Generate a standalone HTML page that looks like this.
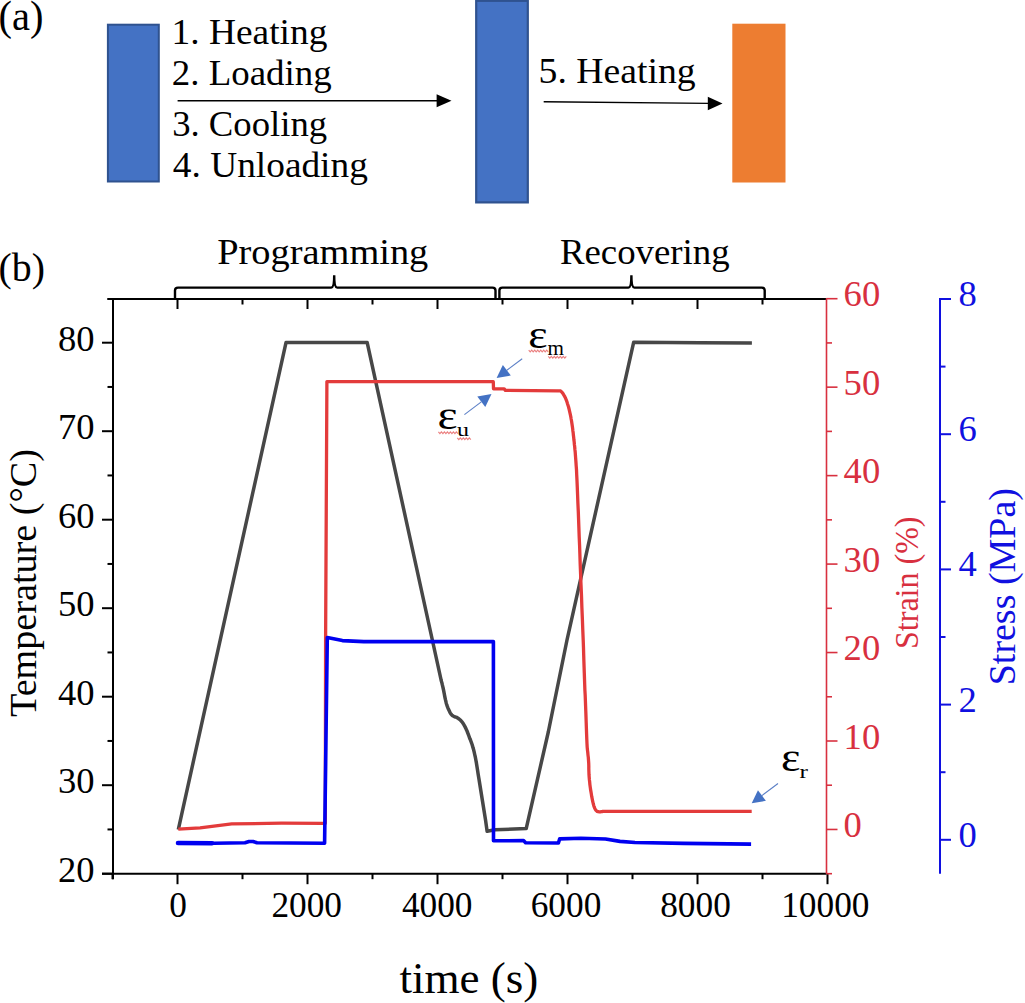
<!DOCTYPE html>
<html><head><meta charset="utf-8"><style>
html,body{margin:0;padding:0;background:#fff;}
svg{display:block;}
text{font-family:"Liberation Serif", serif;}
</style></head><body>
<svg width="1025" height="1003" viewBox="0 0 1025 1003">
<text transform="translate(-1.42,29.80) scale(0.9805,1)" font-size="41.3" fill="#000">(a)</text>
<rect x="107.9" y="24.7" width="50.9" height="156.8" fill="#4472C4" stroke="#2F528F" stroke-width="2"/>
<rect x="476.2" y="0.8" width="51.6" height="201.6" fill="#4472C4" stroke="#2F528F" stroke-width="2.2"/>
<rect x="732.3" y="23.7" width="53.2" height="158.8" fill="#ED7D31"/>
<text transform="translate(171.52,44.10) scale(1.0371,1)" font-size="36.1" fill="#000">1. Heating</text>
<text transform="translate(171.75,85.05) scale(1.0201,1)" font-size="36.2" fill="#000">2. Loading</text>
<text transform="translate(172.16,135.80) scale(1.0144,1)" font-size="36.2" fill="#000">3. Cooling</text>
<text transform="translate(172.87,177.00) scale(1.0318,1)" font-size="36.2" fill="#000">4. Unloading</text>
<text transform="translate(538.54,83.00) scale(1.0336,1)" font-size="36.5" fill="#000">5. Heating</text>
<line x1="177.6" y1="100.7" x2="438" y2="100.7" stroke="#000" stroke-width="1.4"/>
<polygon points="436.6,94.2 451.5,100.7 436.6,107.2" fill="#000"/>
<line x1="543.7" y1="101.7" x2="709" y2="103.4" stroke="#000" stroke-width="1.4"/>
<polygon points="707.8,96.8 722.5,103.5 707.8,110.2" fill="#000"/>
<text transform="translate(-1.39,280.90) scale(0.9734,1)" font-size="40.9" fill="#000">(b)</text>
<text transform="translate(217.24,263.50) scale(1.0967,1)" font-size="35.0" fill="#000">Programming</text>
<text transform="translate(559.88,263.70) scale(1.0379,1)" font-size="35.5" fill="#000">Recovering</text>
<path d="M175,299 L175,290.6 Q175,287.6 178,287.6 L331.2,287.6 Q334.2,287.6 334.2,275.2 Q334.2,287.6 337.2,287.6 L492.5,287.6 Q495.5,287.6 495.5,290.6 L495.5,299" fill="none" stroke="#000" stroke-width="2.4"/>
<path d="M499.4,299 L499.4,290.6 Q499.4,287.6 502.4,287.6 L628.4,287.6 Q631.4,287.6 631.4,275.2 Q631.4,287.6 634.4,287.6 L761.7,287.6 Q764.7,287.6 764.7,290.6 L764.7,299" fill="none" stroke="#000" stroke-width="2.4"/>
<text transform="translate(178.00,916.8) scale(0.965,1)" font-size="36.6" text-anchor="middle">0</text>
<text transform="translate(306.70,916.8) scale(0.965,1)" font-size="36.6" text-anchor="middle">2000</text>
<text transform="translate(437.20,916.8) scale(0.965,1)" font-size="36.6" text-anchor="middle">4000</text>
<text transform="translate(566.00,916.8) scale(0.965,1)" font-size="36.6" text-anchor="middle">6000</text>
<text transform="translate(695.50,916.8) scale(0.965,1)" font-size="36.6" text-anchor="middle">8000</text>
<text transform="translate(825.30,916.8) scale(0.965,1)" font-size="36.6" text-anchor="middle">10000</text>
<text x="94.5" y="881.50" font-size="36.6" text-anchor="end">20</text>
<text x="94.5" y="793.00" font-size="36.6" text-anchor="end">30</text>
<text x="94.5" y="704.50" font-size="36.6" text-anchor="end">40</text>
<text x="94.5" y="616.00" font-size="36.6" text-anchor="end">50</text>
<text x="94.5" y="527.50" font-size="36.6" text-anchor="end">60</text>
<text x="94.5" y="439.00" font-size="36.6" text-anchor="end">70</text>
<text x="94.5" y="350.50" font-size="36.6" text-anchor="end">80</text>
<text x="843.6" y="836.96" font-size="36.6" fill="#D8303F">0</text>
<text x="843.6" y="748.50" font-size="36.6" fill="#D8303F">10</text>
<text x="843.6" y="660.04" font-size="36.6" fill="#D8303F">20</text>
<text x="843.6" y="571.58" font-size="36.6" fill="#D8303F">30</text>
<text x="843.6" y="483.12" font-size="36.6" fill="#D8303F">40</text>
<text x="843.6" y="394.66" font-size="36.6" fill="#D8303F">50</text>
<text x="843.6" y="306.20" font-size="36.6" fill="#D8303F">60</text>
<text x="958.4" y="846.80" font-size="36.6" fill="#1010E0">0</text>
<text x="958.4" y="711.60" font-size="36.6" fill="#1010E0">2</text>
<text x="958.4" y="576.40" font-size="36.6" fill="#1010E0">4</text>
<text x="958.4" y="441.20" font-size="36.6" fill="#1010E0">6</text>
<text x="958.4" y="306.00" font-size="36.6" fill="#1010E0">8</text>
<line x1="113" y1="298" x2="113" y2="879.2" stroke="#000" stroke-width="2"/>
<line x1="107.5" y1="299" x2="113" y2="299" stroke="#000" stroke-width="2"/>
<line x1="102" y1="873.7" x2="826.5" y2="873.7" stroke="#000" stroke-width="2"/>
<line x1="107.5" y1="299" x2="826.5" y2="299" stroke="#000" stroke-width="2"/>
<line x1="177.5" y1="873.7" x2="177.5" y2="884.2" stroke="#000" stroke-width="2"/>
<line x1="177.5" y1="299" x2="177.5" y2="309" stroke="#000" stroke-width="2"/>
<line x1="307.5" y1="873.7" x2="307.5" y2="884.2" stroke="#000" stroke-width="2"/>
<line x1="307.5" y1="299" x2="307.5" y2="309" stroke="#000" stroke-width="2"/>
<line x1="437.5" y1="873.7" x2="437.5" y2="884.2" stroke="#000" stroke-width="2"/>
<line x1="437.5" y1="299" x2="437.5" y2="309" stroke="#000" stroke-width="2"/>
<line x1="567.5" y1="873.7" x2="567.5" y2="884.2" stroke="#000" stroke-width="2"/>
<line x1="567.5" y1="299" x2="567.5" y2="309" stroke="#000" stroke-width="2"/>
<line x1="697.5" y1="873.7" x2="697.5" y2="884.2" stroke="#000" stroke-width="2"/>
<line x1="697.5" y1="299" x2="697.5" y2="309" stroke="#000" stroke-width="2"/>
<line x1="827.5" y1="873.7" x2="827.5" y2="884.2" stroke="#000" stroke-width="2"/>
<line x1="112.5" y1="873.7" x2="112.5" y2="879.2" stroke="#000" stroke-width="2"/>
<line x1="242.5" y1="873.7" x2="242.5" y2="879.2" stroke="#000" stroke-width="2"/>
<line x1="242.5" y1="299" x2="242.5" y2="304.5" stroke="#000" stroke-width="2"/>
<line x1="372.5" y1="873.7" x2="372.5" y2="879.2" stroke="#000" stroke-width="2"/>
<line x1="372.5" y1="299" x2="372.5" y2="304.5" stroke="#000" stroke-width="2"/>
<line x1="502.5" y1="873.7" x2="502.5" y2="879.2" stroke="#000" stroke-width="2"/>
<line x1="502.5" y1="299" x2="502.5" y2="304.5" stroke="#000" stroke-width="2"/>
<line x1="632.5" y1="873.7" x2="632.5" y2="879.2" stroke="#000" stroke-width="2"/>
<line x1="632.5" y1="299" x2="632.5" y2="304.5" stroke="#000" stroke-width="2"/>
<line x1="762.5" y1="873.7" x2="762.5" y2="879.2" stroke="#000" stroke-width="2"/>
<line x1="762.5" y1="299" x2="762.5" y2="304.5" stroke="#000" stroke-width="2"/>
<line x1="102" y1="873.7" x2="113" y2="873.7" stroke="#000" stroke-width="2"/>
<line x1="102" y1="785.2" x2="113" y2="785.2" stroke="#000" stroke-width="2"/>
<line x1="102" y1="696.7" x2="113" y2="696.7" stroke="#000" stroke-width="2"/>
<line x1="102" y1="608.2" x2="113" y2="608.2" stroke="#000" stroke-width="2"/>
<line x1="102" y1="519.7" x2="113" y2="519.7" stroke="#000" stroke-width="2"/>
<line x1="102" y1="431.20000000000005" x2="113" y2="431.20000000000005" stroke="#000" stroke-width="2"/>
<line x1="102" y1="342.70000000000005" x2="113" y2="342.70000000000005" stroke="#000" stroke-width="2"/>
<line x1="107.5" y1="829.45" x2="113" y2="829.45" stroke="#000" stroke-width="2"/>
<line x1="107.5" y1="740.95" x2="113" y2="740.95" stroke="#000" stroke-width="2"/>
<line x1="107.5" y1="652.45" x2="113" y2="652.45" stroke="#000" stroke-width="2"/>
<line x1="107.5" y1="563.95" x2="113" y2="563.95" stroke="#000" stroke-width="2"/>
<line x1="107.5" y1="475.45000000000005" x2="113" y2="475.45000000000005" stroke="#000" stroke-width="2"/>
<line x1="107.5" y1="386.95000000000005" x2="113" y2="386.95000000000005" stroke="#000" stroke-width="2"/>
<line x1="826.5" y1="298.5" x2="826.5" y2="873.7" stroke="#D8303F" stroke-width="1.6"/>
<line x1="826.5" y1="829.46" x2="837.5" y2="829.46" stroke="#D8303F" stroke-width="1.6"/>
<line x1="826.5" y1="741.00" x2="837.5" y2="741.00" stroke="#D8303F" stroke-width="1.6"/>
<line x1="826.5" y1="652.54" x2="837.5" y2="652.54" stroke="#D8303F" stroke-width="1.6"/>
<line x1="826.5" y1="564.08" x2="837.5" y2="564.08" stroke="#D8303F" stroke-width="1.6"/>
<line x1="826.5" y1="475.62" x2="837.5" y2="475.62" stroke="#D8303F" stroke-width="1.6"/>
<line x1="826.5" y1="387.16" x2="837.5" y2="387.16" stroke="#D8303F" stroke-width="1.6"/>
<line x1="826.5" y1="298.70" x2="837.5" y2="298.70" stroke="#D8303F" stroke-width="1.6"/>
<line x1="826.5" y1="873.69" x2="832.0" y2="873.69" stroke="#D8303F" stroke-width="1.6"/>
<line x1="826.5" y1="785.23" x2="832.0" y2="785.23" stroke="#D8303F" stroke-width="1.6"/>
<line x1="826.5" y1="696.77" x2="832.0" y2="696.77" stroke="#D8303F" stroke-width="1.6"/>
<line x1="826.5" y1="608.31" x2="832.0" y2="608.31" stroke="#D8303F" stroke-width="1.6"/>
<line x1="826.5" y1="519.85" x2="832.0" y2="519.85" stroke="#D8303F" stroke-width="1.6"/>
<line x1="826.5" y1="431.39" x2="832.0" y2="431.39" stroke="#D8303F" stroke-width="1.6"/>
<line x1="826.5" y1="342.93" x2="832.0" y2="342.93" stroke="#D8303F" stroke-width="1.6"/>
<line x1="940" y1="298" x2="940" y2="873.7" stroke="#1010E0" stroke-width="2"/>
<line x1="940" y1="839.80" x2="951" y2="839.80" stroke="#1010E0" stroke-width="2"/>
<line x1="940" y1="704.60" x2="951" y2="704.60" stroke="#1010E0" stroke-width="2"/>
<line x1="940" y1="569.40" x2="951" y2="569.40" stroke="#1010E0" stroke-width="2"/>
<line x1="940" y1="434.20" x2="951" y2="434.20" stroke="#1010E0" stroke-width="2"/>
<line x1="940" y1="299.00" x2="951" y2="299.00" stroke="#1010E0" stroke-width="2"/>
<line x1="940" y1="772.20" x2="945.5" y2="772.20" stroke="#1010E0" stroke-width="2"/>
<line x1="940" y1="637.00" x2="945.5" y2="637.00" stroke="#1010E0" stroke-width="2"/>
<line x1="940" y1="501.80" x2="945.5" y2="501.80" stroke="#1010E0" stroke-width="2"/>
<line x1="940" y1="366.60" x2="945.5" y2="366.60" stroke="#1010E0" stroke-width="2"/>
<text transform="translate(36.20,716.50) rotate(-90) translate(-0.48,0) scale(1.0069,1)" font-size="37.9" fill="#000">Temperature (°C)</text>
<text transform="translate(918.20,647.00) rotate(-90) translate(-2.00,0) scale(0.9801,1)" font-size="32.7" fill="#D8303F">Strain (%)</text>
<text transform="translate(1015.40,682.90) rotate(-90) translate(-2.37,0) scale(0.9994,1)" font-size="38.0" fill="#1010E0">Stress (MPa)</text>
<text transform="translate(399.54,993.40) scale(1.0358,1)" font-size="43.5" fill="#000">time (s)</text>
<polyline points="178.3,829.6 286.0,342.6 367.2,342.6 441.1,680.0 441.3,680.8 441.6,681.9 442.0,683.3 442.3,684.7 442.7,686.3 443.1,688.0 443.5,689.8 443.9,691.8 444.3,694.0 444.7,696.1 445.1,698.1 445.5,699.9 445.9,701.5 446.2,702.9 446.6,704.2 447.0,705.4 447.4,706.7 447.9,707.9 448.5,709.2 449.1,710.5 449.7,711.8 450.4,713.1 451.1,714.2 451.9,715.1 452.8,715.8 453.7,716.3 454.6,716.7 455.6,717.0 456.6,717.4 457.5,717.9 458.4,718.5 459.2,719.1 460.0,719.8 460.8,720.6 461.6,721.4 462.3,722.3 463.0,723.3 463.7,724.4 464.4,725.6 465.1,726.9 465.7,728.1 466.3,729.4 466.9,730.7 467.4,732.0 467.9,733.3 468.4,734.6 468.9,736.0 469.4,737.4 469.9,738.8 470.5,740.1 471.0,741.5 471.5,742.9 472.1,744.5 472.6,746.2 473.1,748.1 473.7,750.1 474.2,752.2 474.7,754.5 475.3,757.0 475.8,759.7 476.4,762.9 477.0,766.7 477.6,770.6 478.2,774.4 478.7,777.6 479.1,779.9 479.1,779.9 482.3,799.9 485.5,819.8 487.1,831.3 495.1,829.8 526.2,828.6 548.3,732.0 567.0,640.0 633.7,342.2 700.0,342.8 751.9,343.1" fill="none" stroke="#474747" stroke-width="3.5" stroke-linejoin="round" stroke-linecap="butt"/>
<polyline points="178.3,829.2 200.1,827.8 231.7,823.9 281.8,823.2 322.2,823.3 325.3,823.3 325.6,640.0 326.9,381.6 493.3,381.7 493.5,388.8 504.2,388.9 505.4,390.4 558.0,390.9 558.3,390.9 558.7,390.8 559.3,390.8 559.8,390.8 560.4,390.9 561.0,391.3 561.6,391.9 562.3,392.7 563.0,393.6 563.6,394.7 564.3,395.8 564.9,396.9 565.5,398.1 566.0,399.3 566.5,400.6 567.0,402.0 567.4,403.4 567.9,404.9 568.4,406.4 568.8,408.0 569.2,409.7 569.6,411.4 570.0,413.1 570.4,414.9 570.8,416.8 571.1,418.7 571.5,420.7 571.8,422.7 572.1,424.7 572.4,426.8 572.7,428.9 572.9,431.0 573.2,433.1 573.4,435.3 573.7,437.5 573.9,439.8 574.2,442.1 574.4,444.5 574.7,446.9 574.9,449.4 575.2,452.0 575.4,454.8 575.6,457.5 575.8,460.1 576.0,462.9 576.2,466.0 576.5,469.9 576.7,474.7 577.0,480.7 577.3,487.6 577.6,495.2 577.9,503.3 578.3,511.7 578.6,520.0 578.9,528.4 579.2,536.9 579.6,545.7 579.9,554.8 580.2,564.2 580.6,574.0 581.0,584.6 581.5,596.1 581.9,607.9 582.4,619.6 582.8,630.4 583.2,640.0 583.5,648.1 583.7,655.2 583.9,661.6 584.1,667.4 584.3,673.1 584.5,678.9 584.7,684.7 584.9,690.2 585.2,695.5 585.4,700.7 585.6,706.0 585.8,711.3 586.0,716.9 586.2,722.7 586.4,728.5 586.6,734.1 586.8,739.2 587.0,743.7 587.2,747.3 587.5,750.3 587.8,752.8 588.0,755.1 588.3,757.4 588.5,760.0 588.7,762.9 588.8,765.8 588.8,768.8 588.9,771.8 589.0,774.7 589.2,777.4 589.4,779.9 589.7,782.3 589.9,784.6 590.2,786.9 590.5,789.1 590.9,791.4 591.3,793.8 591.7,796.4 592.2,798.9 592.7,801.3 593.2,803.5 593.7,805.4 594.2,806.9 594.7,808.2 595.3,809.3 595.8,810.1 596.5,810.8 597.2,811.4 598.1,811.7 599.2,811.8 600.3,811.8 601.4,811.6 602.3,811.5 603.0,811.4 603.0,811.4 751.7,811.4" fill="none" stroke="#E33B3B" stroke-width="3.3" stroke-linejoin="round" stroke-linecap="butt"/>
<polyline points="177.3,843.0 214.0,843.2 245.0,842.8 249.0,841.5 253.0,841.5 257.0,842.8 324.6,843.2 327.3,637.6 342.4,640.6 363.9,641.6 493.4,641.6 493.5,840.8 523.5,840.6 525.6,842.8 558.4,843.0 559.7,838.9 580.9,838.3 605.5,839.0 620.0,841.4 635.0,842.5 684.2,843.4 751.1,844.1" fill="none" stroke="#0000F0" stroke-width="3.6" stroke-linejoin="round" stroke-linecap="butt"/>
<line x1="178" y1="843" x2="212" y2="843.3" stroke="#0000F0" stroke-width="4.6" stroke-linecap="round"/>
<line x1="522.2" y1="358.7" x2="506.82" y2="370.29" stroke="#5B7FC6" stroke-width="1.1"/><polygon points="496.6,378 502.85,365.02 510.79,375.56" fill="#4472C4"/>
<line x1="464.4" y1="414.6" x2="481.29" y2="401.82" stroke="#5B7FC6" stroke-width="1.1"/><polygon points="491.5,394.1 485.27,407.09 477.31,396.56" fill="#4472C4"/>
<line x1="778" y1="783.5" x2="761.93" y2="795.60" stroke="#5B7FC6" stroke-width="1.1"/><polygon points="751.7,803.3 757.96,790.33 765.90,800.87" fill="#4472C4"/>
<polyline points="528.7,350.1 530.2,351.9 531.7,350.1 533.2,351.9 534.7,350.1 536.2,351.9 537.7,350.1 539.2,351.9 540.7,350.1 542.2,351.9 543.7,350.1 545.2,351.9 546.7,350.1 548.2,351.9" fill="none" stroke="#E86A6A" stroke-width="1.1" opacity="0.85"/>
<polyline points="548.3,356.4 549.8,358.2 551.3,356.4 552.8,358.2 554.3,356.4 555.8,358.2 557.3,356.4 558.8,358.2 560.3,356.4 561.8,358.2 563.3,356.4 564.8,358.2 566.3,356.4" fill="none" stroke="#E86A6A" stroke-width="1.1" opacity="0.85"/>
<polyline points="438.4,431.8 439.9,433.6 441.4,431.8 442.9,433.6 444.4,431.8 445.9,433.6 447.4,431.8 448.9,433.6 450.4,431.8 451.9,433.6 453.4,431.8 454.9,433.6 456.4,431.8 457.9,433.6" fill="none" stroke="#E86A6A" stroke-width="1.1" opacity="0.85"/>
<polyline points="457.3,437.9 458.8,439.7 460.3,437.9 461.8,439.7 463.3,437.9 464.8,439.7 466.3,437.9 467.8,439.7 469.3,437.9 470.8,439.7" fill="none" stroke="#E86A6A" stroke-width="1.1" opacity="0.85"/>
<text transform="translate(528.27,348.20) scale(1.1386,1)" font-size="40.4" fill="#000">ε</text>
<text transform="translate(547.47,355.30) scale(1.0369,1)" font-size="20.4" fill="#000">m</text>
<text transform="translate(437.51,429.30) scale(1.1752,1)" font-size="40.6" fill="#000">ε</text>
<text transform="translate(457.00,436.40) scale(1.2766,1)" font-size="18.8" fill="#000">u</text>
<text transform="translate(781.06,770.50) scale(1.1289,1)" font-size="41.0" fill="#000">ε</text>
<text transform="translate(799.57,777.60) scale(1.3058,1)" font-size="19.4" fill="#000">r</text>
</svg></body></html>
